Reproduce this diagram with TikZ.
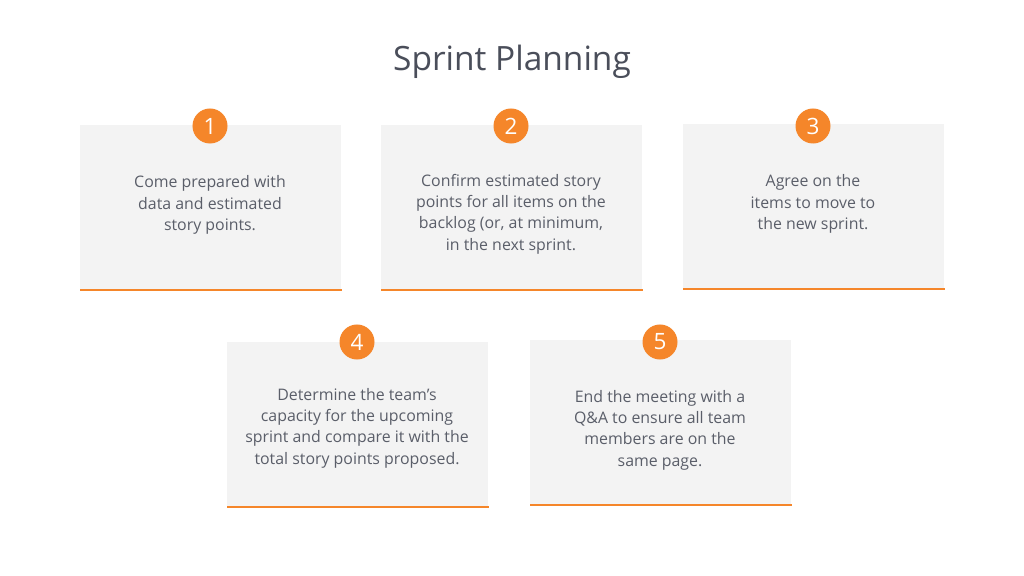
\documentclass[tikz,border=0pt]{standalone}
\usepackage{fontspec}
\setmainfont{Open Sans}
\usetikzlibrary{positioning}
\definecolor{stepOrange}{HTML}{F5862A}
\definecolor{cardGray}{HTML}{F3F3F3}
\definecolor{inkGray}{HTML}{5A5E69}
\definecolor{titleGray}{HTML}{4A4E5A}
\begin{document}
\begin{tikzpicture}[x=0.025cm, y=-0.025cm,
    card/.style={fill=cardGray, minimum width=6.525cm, minimum height=4.1cm, anchor=north west, inner sep=0pt},
    badge/.style={circle, fill=stepOrange, text=white, minimum size=0.875cm, inner sep=0pt, font=\fontsize{16}{16}\selectfont},
    note/.style={align=center, text=inkGray, font=\fontsize{11.3}{15.2}\selectfont},
    rule/.style={draw=stepOrange, line width=1.4pt}]
   \useasboundingbox[fill=white] (0,0) rectangle (1024,576);
   \node[text=titleGray, font=\fontsize{23.8}{26}\selectfont] (title) at (512,62) {Sprint Planning};

   % cards
   \node[card] (b1) at (80,125) {};
   \node[card] (b2) at (381,125) {};
   \node[card] (b3) at (683,124) {};
   \node[card] (b4) at (227,342) {};
   \node[card] (b5) at (530,340) {};

   % orange bottom rules
   \draw[rule] (b1.south west) -- (b1.south east);
   \draw[rule] (b2.south west) -- (b2.south east);
   \draw[rule] (b3.south west) -- (b3.south east);
   \draw[rule] (b4.south west) -- (b4.south east);
   \draw[rule] (b5.south west) -- (b5.south east);

   % numbers
   \node[badge] (n1) at (210,126) {1};
   \node[badge] (n2) at (511,126) {2};
   \node[badge] (n3) at (813,126) {3};
   \node[badge] (n4) at (357,342) {4};
   \node[badge] (n5) at (660,342) {5};

   % texts
   \node[note] (t1) at (210,205) {Come prepared with\\data and estimated\\story points.};
   \node[note] (t2) at (511,214) {Confirm estimated story\\points for all items on the\\backlog (or, at minimum,\\in the next sprint.};
   \node[note] (t3) at (813,204) {Agree on the\\items to move to\\the new sprint.};
   \node[note] (t4) at (357,428) {Determine the team’s\\capacity for the upcoming\\sprint and compare it with the\\total story points proposed.};
   \node[note] (t5) at (660,430) {End the meeting with a\\Q\&A to ensure all team\\members are on the\\same page.};
\end{tikzpicture}
\end{document}
